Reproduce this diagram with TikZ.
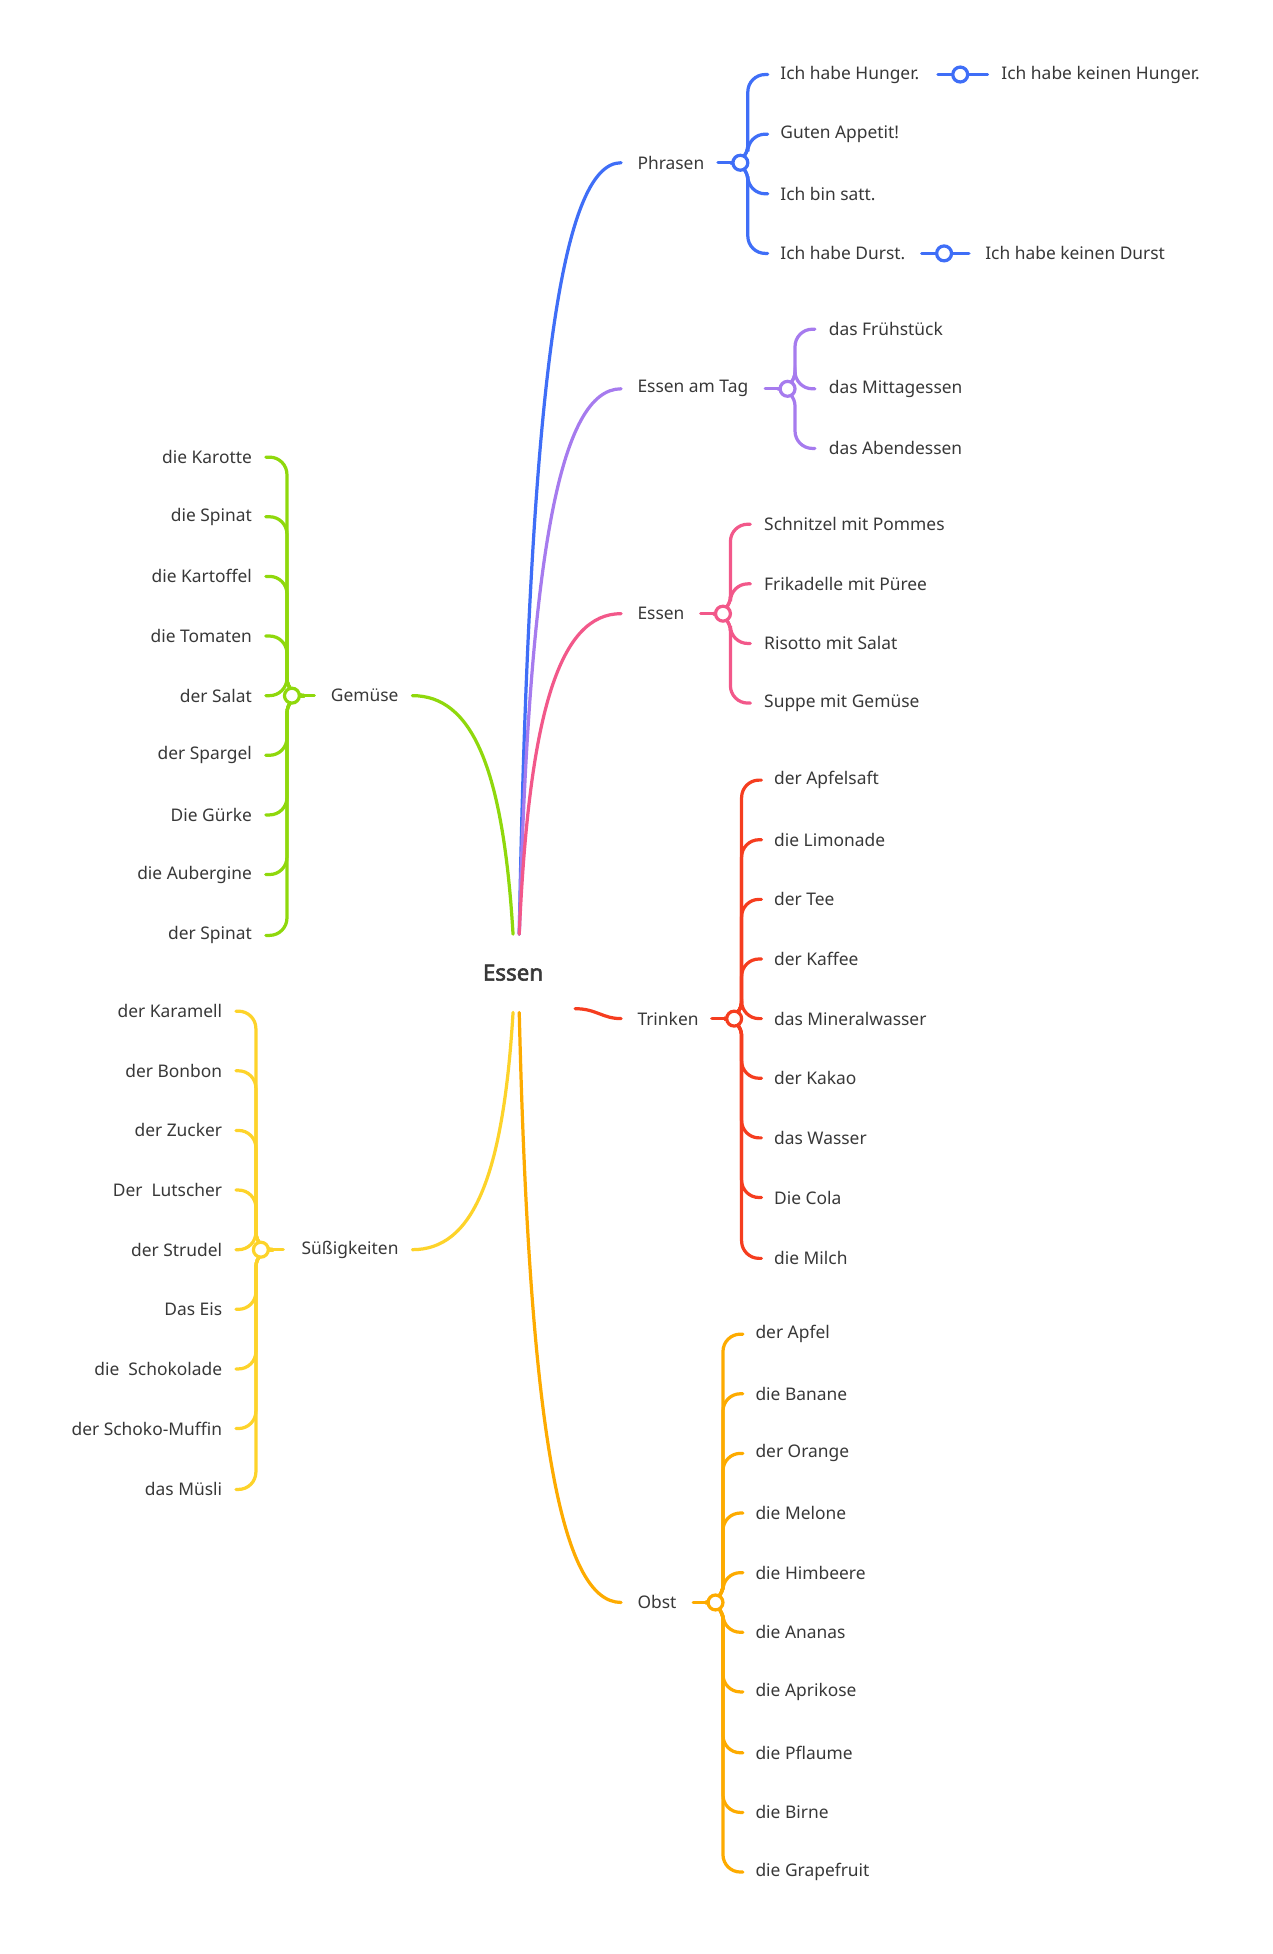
\documentclass[tikz,border=0pt]{standalone}
\usepackage{fontspec}
\setmainfont{Noto Sans}[AutoFakeBold=2.5]
\begin{document}
\begin{tikzpicture}[x=1pt,y=-1pt,
  lbl/.style={font=\fontsize{14}{16}\selectfont, text=black!78, inner sep=0pt},
  hubc/.style={circle, draw=#1, fill=white, line width=2.6pt, minimum size=12pt, inner sep=0pt},
  ln/.style={draw=#1, line width=2.6pt, line cap=round}]
\definecolor{cb}{HTML}{3F6EF7}\definecolor{cp}{HTML}{A67BEE}\definecolor{ck}{HTML}{F2588A}
\definecolor{cr}{HTML}{F53D1F}\definecolor{co}{HTML}{FDAB00}\definecolor{cg}{HTML}{8FD80C}
\definecolor{cy}{HTML}{FDD32A}
\useasboundingbox (0,0) rectangle (1024,1573);
\node[font=\fontsize{18}{20}\selectfont\bfseries, text=black!78] (root) at (413,783) {Essen};
\coordinate (ru) at (418,752); \coordinate (rul) at (413,752);
\coordinate (rd) at (418,815); \coordinate (rdl) at (413,815); \coordinate (rr) at (463,812);
\coordinate (e1) at (500,131); \coordinate (e2) at (500,313); \coordinate (e3) at (500,494);
\coordinate (e4) at (500,820); \coordinate (e5) at (500,1290); \coordinate (e6) at (332,560); \coordinate (e7) at (332,1006);
\draw[ln=cb] (ru) .. controls (426,317) and (451,131) .. (e1);
\draw[ln=cp] (ru) .. controls (426,445) and (451,313) .. (e2);
\draw[ln=ck] (ru) .. controls (426,571) and (451,494) .. (e3);
\draw[ln=cr] (rr) .. controls (480,812) and (485,820) .. (e4);
\draw[ln=co] (rd) .. controls (426,1148) and (451,1290) .. (e5);
\draw[ln=cg] (rul) .. controls (405,618) and (380,560) .. (e6);
\draw[ln=cy] (rdl) .. controls (405,949) and (380,1006) .. (e7);
\node[lbl,anchor=west] (p) at (513,131) {Phrasen};
\node[lbl,anchor=west] (t) at (513,313) {Essen am Tag};
\node[lbl,anchor=west] (e) at (513,494) {Essen};
\node[lbl,anchor=west] (tr) at (513,820) {Trinken};
\node[lbl,anchor=west] (o) at (513,1290) {Obst};
\node[lbl,anchor=east] (g) at (321,560) {Gemüse};
\node[lbl,anchor=east] (s) at (321,1006) {Süßigkeiten};
\newcommand\rtree[6]{%
  \draw[ln=#1] (#2-18,#3) -- (#2,#3);
  \foreach \yy/\tt [count=\k] in {#6} {
    \draw[ln=#1, rounded corners=14pt] (#2,#3) -- (#2+6,#3) -- (#2+6,\yy) -- (#4,\yy);
    \node[lbl,anchor=west] (n#1\k) at (#5,\yy) {\tt};
  }
  \node[hubc=#1] (h#1) at (#2,#3) {};
}
\rtree{cb}{596}{131}{618}{628}{60/Ich habe Hunger.,108/Guten Appetit!,156/Ich bin satt.,204/Ich habe Durst.}
\rtree{cp}{634}{313}{656}{667}{265/das Frühstück,313/das Mittagessen,361/das Abendessen}
\rtree{ck}{582}{494}{604}{615}{422/Schnitzel mit Pommes,470/Frikadelle mit Püree,518/Risotto mit Salat,566/Suppe mit Gemüse}
\rtree{cr}{591}{820}{613}{623}{628/der Apfelsaft,676/die Limonade,724/der Tee,772/der Kaffee,820/das Mineralwasser,868/der Kakao,916/das Wasser,964/Die Cola,1013/die Milch}
\rtree{co}{576}{1290}{598}{608}{1074/der Apfel,1122/die Banane,1170/der Orange,1218/die Melone,1266/die Himbeere,1314/die Ananas,1362/die Aprikose,1411/die Pflaume,1459/die Birne,1507/die Grapefruit}
\draw[ln=cb] (755,60) -- (795,60); \node[hubc=cb] (hb1) at (773,60) {};
\node[lbl,anchor=west] (nb1) at (806,60) {Ich habe keinen Hunger.};
\draw[ln=cb] (742,204) -- (780,204); \node[hubc=cb] (hb2) at (760,204) {};
\node[lbl,anchor=west] (nb2) at (793,204) {Ich habe keinen Durst};
\newcommand\ltree[6]{%
  \draw[ln=#1] (#2+18,#3) -- (#2,#3);
  \foreach \yy/\tt [count=\k] in {#6} {
    \draw[ln=#1, rounded corners=14pt] (#2,#3) -- (#2-4,#3) -- (#2-4,\yy) -- (#4,\yy);
    \node[lbl,anchor=east] (n#1\k) at (#5,\yy) {\tt};
  }
  \node[hubc=#1] (h#1) at (#2,#3) {};
}
\ltree{cg}{235}{560}{214}{203}{368/die Karotte,416/die Spinat,464/die Kartoffel,512/die Tomaten,560/der Salat,608/der Spargel,656/Die Gürke,704/die Aubergine,753/der Spinat}
\ltree{cy}{210}{1006}{190}{179}{814/der Karamell,862/der Bonbon,910/der Zucker,958/Der\ \ Lutscher,1006/der Strudel,1054/Das Eis,1102/die\ \ Schokolade,1150/der Schoko-Muffin,1199/das Müsli}
\end{tikzpicture}
\end{document}
